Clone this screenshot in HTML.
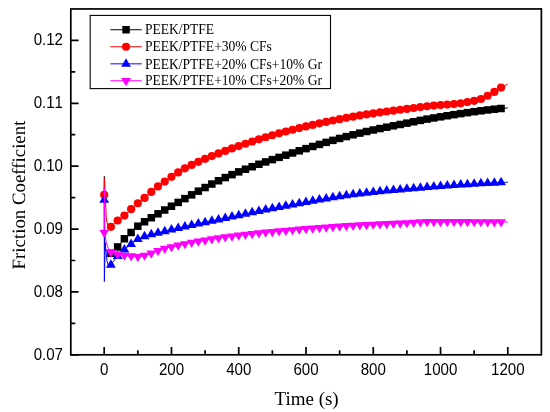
<!DOCTYPE html>
<html lang="en"><head><meta charset="utf-8"><title>Friction Coefficient vs Time</title>
<style>html,body{margin:0;padding:0;background:#fff;}body{width:550px;height:412px;overflow:hidden;}</style>
</head><body>
<svg width="550" height="412" viewBox="0 0 550 412" style="display:block">
<rect width="550" height="412" fill="#ffffff"/>
<g id="s-black">
<polyline points="104.20,194.11 104.37,176.49 104.70,250.09 110.93,253.23 112.61,251.83 114.29,250.31 115.97,248.67 117.65,246.94 119.33,245.00 121.02,242.85 122.70,240.71 124.38,238.76 126.06,237.08 127.74,235.52 129.42,234.01 131.11,232.47 132.79,230.85 134.47,229.19 136.15,227.60 137.83,226.18 139.51,224.96 141.20,223.86 142.88,222.82 144.56,221.78 146.24,220.74 147.92,219.72 149.60,218.70 151.29,217.71 152.97,216.72 154.65,215.74 156.33,214.77 158.01,213.81 159.69,212.86 161.38,211.91 163.06,210.96 164.74,210.02 166.42,209.07 168.10,208.13 169.78,207.18 171.47,206.22 173.15,205.27 174.83,204.32 176.51,203.36 178.19,202.41 179.87,201.46 181.56,200.50 183.24,199.55 184.92,198.60 186.60,197.66 188.28,196.71 189.96,195.77 191.65,194.84 193.33,193.91 195.01,192.98 196.69,192.05 198.37,191.14 200.05,190.23 201.74,189.32 203.42,188.42 205.10,187.53 206.78,186.65 208.46,185.78 210.14,184.91 211.83,184.05 213.51,183.21 215.19,182.37 216.87,181.54 218.55,180.73 220.23,179.92 221.92,179.13 223.60,178.35 225.28,177.58 226.96,176.83 228.64,176.09 230.32,175.36 232.01,174.65 233.69,173.94 235.37,173.24 237.05,172.55 238.73,171.87 240.41,171.20 242.10,170.54 243.78,169.88 245.46,169.23 247.14,168.59 248.82,167.95 250.50,167.32 252.19,166.70 253.87,166.08 255.55,165.47 257.23,164.87 258.91,164.27 260.59,163.67 262.28,163.08 263.96,162.50 265.64,161.91 267.32,161.34 269.00,160.76 270.68,160.19 272.37,159.62 274.05,159.06 275.73,158.50 277.41,157.94 279.09,157.38 280.77,156.82 282.45,156.27 284.14,155.72 285.82,155.17 287.50,154.62 289.18,154.07 290.86,153.52 292.54,152.97 294.23,152.42 295.91,151.88 297.59,151.33 299.27,150.79 300.95,150.25 302.63,149.71 304.32,149.17 306.00,148.63 307.68,148.09 309.36,147.56 311.04,147.03 312.72,146.50 314.41,145.97 316.09,145.45 317.77,144.93 319.45,144.41 321.13,143.89 322.81,143.38 324.50,142.87 326.18,142.36 327.86,141.86 329.54,141.36 331.22,140.86 332.90,140.37 334.59,139.88 336.27,139.40 337.95,138.92 339.63,138.44 341.31,137.97 342.99,137.50 344.68,137.04 346.36,136.58 348.04,136.13 349.72,135.68 351.40,135.24 353.08,134.80 354.77,134.37 356.45,133.95 358.13,133.53 359.81,133.11 361.49,132.70 363.17,132.30 364.86,131.90 366.54,131.51 368.22,131.13 369.90,130.75 371.58,130.37 373.26,130.00 374.95,129.64 376.63,129.28 378.31,128.92 379.99,128.56 381.67,128.21 383.35,127.86 385.04,127.52 386.72,127.18 388.40,126.83 390.08,126.49 391.76,126.16 393.44,125.82 395.13,125.48 396.81,125.15 398.49,124.81 400.17,124.48 401.85,124.14 403.53,123.81 405.22,123.47 406.90,123.14 408.58,122.80 410.26,122.46 411.94,122.11 413.62,121.77 415.31,121.42 416.99,121.07 418.67,120.73 420.35,120.39 422.03,120.06 423.71,119.73 425.40,119.41 427.08,119.10 428.76,118.81 430.44,118.52 432.12,118.24 433.80,117.95 435.49,117.67 437.17,117.39 438.85,117.11 440.53,116.83 442.21,116.55 443.89,116.27 445.57,116.00 447.26,115.73 448.94,115.46 450.62,115.19 452.30,114.92 453.98,114.66 455.66,114.40 457.35,114.14 459.03,113.88 460.71,113.63 462.39,113.38 464.07,113.13 465.75,112.88 467.44,112.64 469.12,112.40 470.80,112.16 472.48,111.92 474.16,111.69 475.84,111.47 477.53,111.24 479.21,111.02 480.89,110.80 482.57,110.59 484.25,110.38 485.93,110.17 487.62,109.97 489.30,109.77 490.98,109.58 492.66,109.39 494.34,109.20 496.02,109.02 497.71,108.84 499.39,108.67 501.07,108.50 502.75,108.34 504.43,108.20 506.11,108.06 507.80,107.93" fill="none" stroke="#000000" stroke-width="1"/>
<rect x="107.18" y="249.48" width="7.5" height="7.5" fill="#000000"/><rect x="113.90" y="243.19" width="7.5" height="7.5" fill="#000000"/><rect x="120.63" y="235.01" width="7.5" height="7.5" fill="#000000"/><rect x="127.36" y="228.72" width="7.5" height="7.5" fill="#000000"/><rect x="134.08" y="222.43" width="7.5" height="7.5" fill="#000000"/><rect x="140.81" y="218.03" width="7.5" height="7.5" fill="#000000"/><rect x="147.54" y="213.96" width="7.5" height="7.5" fill="#000000"/><rect x="154.26" y="210.06" width="7.5" height="7.5" fill="#000000"/><rect x="160.99" y="206.27" width="7.5" height="7.5" fill="#000000"/><rect x="167.72" y="202.47" width="7.5" height="7.5" fill="#000000"/><rect x="174.44" y="198.66" width="7.5" height="7.5" fill="#000000"/><rect x="181.17" y="194.85" width="7.5" height="7.5" fill="#000000"/><rect x="187.90" y="191.09" width="7.5" height="7.5" fill="#000000"/><rect x="194.62" y="187.39" width="7.5" height="7.5" fill="#000000"/><rect x="201.35" y="183.78" width="7.5" height="7.5" fill="#000000"/><rect x="208.08" y="180.30" width="7.5" height="7.5" fill="#000000"/><rect x="214.80" y="176.98" width="7.5" height="7.5" fill="#000000"/><rect x="221.53" y="173.83" width="7.5" height="7.5" fill="#000000"/><rect x="228.26" y="170.90" width="7.5" height="7.5" fill="#000000"/><rect x="234.98" y="168.12" width="7.5" height="7.5" fill="#000000"/><rect x="241.71" y="165.48" width="7.5" height="7.5" fill="#000000"/><rect x="248.44" y="162.95" width="7.5" height="7.5" fill="#000000"/><rect x="255.16" y="160.52" width="7.5" height="7.5" fill="#000000"/><rect x="261.89" y="158.16" width="7.5" height="7.5" fill="#000000"/><rect x="268.62" y="155.87" width="7.5" height="7.5" fill="#000000"/><rect x="275.34" y="153.63" width="7.5" height="7.5" fill="#000000"/><rect x="282.07" y="151.42" width="7.5" height="7.5" fill="#000000"/><rect x="288.79" y="149.22" width="7.5" height="7.5" fill="#000000"/><rect x="295.52" y="147.04" width="7.5" height="7.5" fill="#000000"/><rect x="302.25" y="144.88" width="7.5" height="7.5" fill="#000000"/><rect x="308.97" y="142.75" width="7.5" height="7.5" fill="#000000"/><rect x="315.70" y="140.66" width="7.5" height="7.5" fill="#000000"/><rect x="322.43" y="138.61" width="7.5" height="7.5" fill="#000000"/><rect x="329.15" y="136.62" width="7.5" height="7.5" fill="#000000"/><rect x="335.88" y="134.69" width="7.5" height="7.5" fill="#000000"/><rect x="342.61" y="132.83" width="7.5" height="7.5" fill="#000000"/><rect x="349.33" y="131.05" width="7.5" height="7.5" fill="#000000"/><rect x="356.06" y="129.36" width="7.5" height="7.5" fill="#000000"/><rect x="362.79" y="127.76" width="7.5" height="7.5" fill="#000000"/><rect x="369.51" y="126.25" width="7.5" height="7.5" fill="#000000"/><rect x="376.24" y="124.81" width="7.5" height="7.5" fill="#000000"/><rect x="382.97" y="123.43" width="7.5" height="7.5" fill="#000000"/><rect x="389.69" y="122.07" width="7.5" height="7.5" fill="#000000"/><rect x="396.42" y="120.73" width="7.5" height="7.5" fill="#000000"/><rect x="403.15" y="119.39" width="7.5" height="7.5" fill="#000000"/><rect x="409.87" y="118.02" width="7.5" height="7.5" fill="#000000"/><rect x="416.60" y="116.64" width="7.5" height="7.5" fill="#000000"/><rect x="423.33" y="115.35" width="7.5" height="7.5" fill="#000000"/><rect x="430.05" y="114.20" width="7.5" height="7.5" fill="#000000"/><rect x="436.78" y="113.08" width="7.5" height="7.5" fill="#000000"/><rect x="443.51" y="111.98" width="7.5" height="7.5" fill="#000000"/><rect x="450.23" y="110.91" width="7.5" height="7.5" fill="#000000"/><rect x="456.96" y="109.88" width="7.5" height="7.5" fill="#000000"/><rect x="463.69" y="108.89" width="7.5" height="7.5" fill="#000000"/><rect x="470.41" y="107.94" width="7.5" height="7.5" fill="#000000"/><rect x="477.14" y="107.05" width="7.5" height="7.5" fill="#000000"/><rect x="483.87" y="106.22" width="7.5" height="7.5" fill="#000000"/><rect x="490.59" y="105.45" width="7.5" height="7.5" fill="#000000"/><rect x="497.32" y="104.75" width="7.5" height="7.5" fill="#000000"/>
</g>
<g id="s-red">
<polyline points="104.20,194.11 104.54,178.38 105.21,194.11 106.22,217.38 107.56,224.93 110.93,226.81 112.61,225.11 114.29,223.48 115.97,221.95 117.65,220.52 119.33,219.24 121.02,218.08 122.70,216.91 124.38,215.62 126.06,214.12 127.74,212.49 129.42,210.81 131.11,209.20 132.79,207.66 134.47,206.15 136.15,204.66 137.83,203.23 139.51,201.86 141.20,200.55 142.88,199.24 144.56,197.88 146.24,196.42 147.92,194.90 149.60,193.38 151.29,191.90 152.97,190.49 154.65,189.10 156.33,187.75 158.01,186.43 159.69,185.16 161.38,183.93 163.06,182.73 164.74,181.53 166.42,180.32 168.10,179.13 169.78,177.96 171.47,176.81 173.15,175.68 174.83,174.57 176.51,173.48 178.19,172.40 179.87,171.33 181.56,170.27 183.24,169.25 184.92,168.32 186.60,167.45 188.28,166.59 189.96,165.75 191.65,164.93 193.33,164.12 195.01,163.33 196.69,162.55 198.37,161.78 200.05,161.03 201.74,160.29 203.42,159.56 205.10,158.84 206.78,158.13 208.46,157.44 210.14,156.75 211.83,156.07 213.51,155.40 215.19,154.74 216.87,154.09 218.55,153.44 220.23,152.80 221.92,152.16 223.60,151.54 225.28,150.91 226.96,150.29 228.64,149.68 230.32,149.07 232.01,148.46 233.69,147.86 235.37,147.26 237.05,146.66 238.73,146.07 240.41,145.49 242.10,144.90 243.78,144.33 245.46,143.75 247.14,143.18 248.82,142.62 250.50,142.06 252.19,141.51 253.87,140.96 255.55,140.41 257.23,139.87 258.91,139.33 260.59,138.80 262.28,138.28 263.96,137.76 265.64,137.24 267.32,136.74 269.00,136.23 270.68,135.73 272.37,135.24 274.05,134.75 275.73,134.27 277.41,133.79 279.09,133.32 280.77,132.86 282.45,132.40 284.14,131.95 285.82,131.50 287.50,131.06 289.18,130.62 290.86,130.19 292.54,129.77 294.23,129.34 295.91,128.92 297.59,128.51 299.27,128.09 300.95,127.68 302.63,127.27 304.32,126.87 306.00,126.46 307.68,126.07 309.36,125.67 311.04,125.28 312.72,124.89 314.41,124.50 316.09,124.12 317.77,123.74 319.45,123.37 321.13,123.00 322.81,122.63 324.50,122.26 326.18,121.90 327.86,121.54 329.54,121.19 331.22,120.84 332.90,120.49 334.59,120.15 336.27,119.81 337.95,119.47 339.63,119.14 341.31,118.81 342.99,118.49 344.68,118.17 346.36,117.85 348.04,117.54 349.72,117.23 351.40,116.93 353.08,116.63 354.77,116.33 356.45,116.04 358.13,115.76 359.81,115.47 361.49,115.19 363.17,114.92 364.86,114.65 366.54,114.39 368.22,114.13 369.90,113.88 371.58,113.63 373.26,113.38 374.95,113.14 376.63,112.90 378.31,112.66 379.99,112.43 381.67,112.20 383.35,111.97 385.04,111.75 386.72,111.52 388.40,111.30 390.08,111.08 391.76,110.86 393.44,110.64 395.13,110.42 396.81,110.20 398.49,109.99 400.17,109.77 401.85,109.55 403.53,109.33 405.22,109.12 406.90,108.90 408.58,108.68 410.26,108.45 411.94,108.23 413.62,108.00 415.31,107.77 416.99,107.54 418.67,107.32 420.35,107.09 422.03,106.87 423.71,106.66 425.40,106.46 427.08,106.26 428.76,106.08 430.44,105.91 432.12,105.75 433.80,105.60 435.49,105.47 437.17,105.34 438.85,105.21 440.53,105.09 442.21,104.97 443.89,104.86 445.57,104.74 447.26,104.62 448.94,104.49 450.62,104.36 452.30,104.22 453.98,104.07 455.66,103.91 457.35,103.74 459.03,103.55 460.71,103.34 462.39,103.08 464.07,102.76 465.75,102.42 467.44,102.08 469.12,101.78 470.80,101.48 472.48,101.17 474.16,100.82 475.84,100.44 477.53,100.02 479.21,99.54 480.89,99.00 482.57,98.33 484.25,97.51 485.93,96.63 487.62,95.73 489.30,94.82 490.98,93.88 492.66,92.90 494.34,91.89 496.02,90.83 497.71,89.72 499.39,88.63 501.07,87.62 502.75,86.69 504.43,85.81 506.11,84.99 507.80,84.22" fill="none" stroke="#ff0000" stroke-width="1"/>
<circle cx="104.20" cy="194.73" r="4.1" fill="#ff0000"/><circle cx="110.93" cy="226.81" r="4.1" fill="#ff0000"/><circle cx="117.65" cy="220.52" r="4.1" fill="#ff0000"/><circle cx="124.38" cy="215.62" r="4.1" fill="#ff0000"/><circle cx="131.11" cy="209.20" r="4.1" fill="#ff0000"/><circle cx="137.83" cy="203.23" r="4.1" fill="#ff0000"/><circle cx="144.56" cy="197.88" r="4.1" fill="#ff0000"/><circle cx="151.29" cy="191.90" r="4.1" fill="#ff0000"/><circle cx="158.01" cy="186.43" r="4.1" fill="#ff0000"/><circle cx="164.74" cy="181.53" r="4.1" fill="#ff0000"/><circle cx="171.47" cy="176.81" r="4.1" fill="#ff0000"/><circle cx="178.19" cy="172.40" r="4.1" fill="#ff0000"/><circle cx="184.92" cy="168.32" r="4.1" fill="#ff0000"/><circle cx="191.65" cy="164.93" r="4.1" fill="#ff0000"/><circle cx="198.37" cy="161.78" r="4.1" fill="#ff0000"/><circle cx="205.10" cy="158.84" r="4.1" fill="#ff0000"/><circle cx="211.83" cy="156.07" r="4.1" fill="#ff0000"/><circle cx="218.55" cy="153.44" r="4.1" fill="#ff0000"/><circle cx="225.28" cy="150.91" r="4.1" fill="#ff0000"/><circle cx="232.01" cy="148.46" r="4.1" fill="#ff0000"/><circle cx="238.73" cy="146.07" r="4.1" fill="#ff0000"/><circle cx="245.46" cy="143.75" r="4.1" fill="#ff0000"/><circle cx="252.19" cy="141.51" r="4.1" fill="#ff0000"/><circle cx="258.91" cy="139.33" r="4.1" fill="#ff0000"/><circle cx="265.64" cy="137.24" r="4.1" fill="#ff0000"/><circle cx="272.37" cy="135.24" r="4.1" fill="#ff0000"/><circle cx="279.09" cy="133.32" r="4.1" fill="#ff0000"/><circle cx="285.82" cy="131.50" r="4.1" fill="#ff0000"/><circle cx="292.54" cy="129.77" r="4.1" fill="#ff0000"/><circle cx="299.27" cy="128.09" r="4.1" fill="#ff0000"/><circle cx="306.00" cy="126.46" r="4.1" fill="#ff0000"/><circle cx="312.72" cy="124.89" r="4.1" fill="#ff0000"/><circle cx="319.45" cy="123.37" r="4.1" fill="#ff0000"/><circle cx="326.18" cy="121.90" r="4.1" fill="#ff0000"/><circle cx="332.90" cy="120.49" r="4.1" fill="#ff0000"/><circle cx="339.63" cy="119.14" r="4.1" fill="#ff0000"/><circle cx="346.36" cy="117.85" r="4.1" fill="#ff0000"/><circle cx="353.08" cy="116.63" r="4.1" fill="#ff0000"/><circle cx="359.81" cy="115.47" r="4.1" fill="#ff0000"/><circle cx="366.54" cy="114.39" r="4.1" fill="#ff0000"/><circle cx="373.26" cy="113.38" r="4.1" fill="#ff0000"/><circle cx="379.99" cy="112.43" r="4.1" fill="#ff0000"/><circle cx="386.72" cy="111.52" r="4.1" fill="#ff0000"/><circle cx="393.44" cy="110.64" r="4.1" fill="#ff0000"/><circle cx="400.17" cy="109.77" r="4.1" fill="#ff0000"/><circle cx="406.90" cy="108.90" r="4.1" fill="#ff0000"/><circle cx="413.62" cy="108.00" r="4.1" fill="#ff0000"/><circle cx="420.35" cy="107.09" r="4.1" fill="#ff0000"/><circle cx="427.08" cy="106.26" r="4.1" fill="#ff0000"/><circle cx="433.80" cy="105.60" r="4.1" fill="#ff0000"/><circle cx="440.53" cy="105.09" r="4.1" fill="#ff0000"/><circle cx="447.26" cy="104.62" r="4.1" fill="#ff0000"/><circle cx="453.98" cy="104.07" r="4.1" fill="#ff0000"/><circle cx="460.71" cy="103.34" r="4.1" fill="#ff0000"/><circle cx="467.44" cy="102.08" r="4.1" fill="#ff0000"/><circle cx="474.16" cy="100.82" r="4.1" fill="#ff0000"/><circle cx="480.89" cy="99.00" r="4.1" fill="#ff0000"/><circle cx="487.62" cy="95.73" r="4.1" fill="#ff0000"/><circle cx="494.34" cy="91.89" r="4.1" fill="#ff0000"/><circle cx="501.07" cy="87.62" r="4.1" fill="#ff0000"/>
</g>
<g id="s-blue">
<polyline points="104.20,199.77 104.37,281.54 105.21,242.54 106.89,260.15 108.57,266.44 110.93,264.80 112.61,262.36 114.29,260.06 115.97,257.93 117.65,256.00 119.33,254.26 121.02,252.68 122.70,251.19 124.38,249.71 126.06,248.24 127.74,246.80 129.42,245.40 131.11,244.05 132.79,242.66 134.47,241.25 136.15,239.98 137.83,239.02 139.51,238.28 141.20,237.60 142.88,236.97 144.56,236.38 146.24,235.85 147.92,235.34 149.60,234.87 151.29,234.43 152.97,234.01 154.65,233.60 156.33,233.21 158.01,232.82 159.69,232.44 161.38,232.05 163.06,231.65 164.74,231.24 166.42,230.82 168.10,230.40 169.78,229.99 171.47,229.58 173.15,229.18 174.83,228.78 176.51,228.39 178.19,228.00 179.87,227.62 181.56,227.24 183.24,226.87 184.92,226.49 186.60,226.12 188.28,225.76 189.96,225.40 191.65,225.03 193.33,224.68 195.01,224.32 196.69,223.97 198.37,223.62 200.05,223.27 201.74,222.92 203.42,222.57 205.10,222.23 206.78,221.89 208.46,221.54 210.14,221.20 211.83,220.86 213.51,220.52 215.19,220.17 216.87,219.83 218.55,219.49 220.23,219.15 221.92,218.80 223.60,218.46 225.28,218.11 226.96,217.76 228.64,217.41 230.32,217.06 232.01,216.71 233.69,216.36 235.37,216.01 237.05,215.65 238.73,215.30 240.41,214.94 242.10,214.59 243.78,214.23 245.46,213.88 247.14,213.53 248.82,213.17 250.50,212.82 252.19,212.47 253.87,212.11 255.55,211.76 257.23,211.41 258.91,211.07 260.59,210.72 262.28,210.37 263.96,210.03 265.64,209.68 267.32,209.34 269.00,209.00 270.68,208.66 272.37,208.33 274.05,207.99 275.73,207.66 277.41,207.33 279.09,207.01 280.77,206.68 282.45,206.36 284.14,206.04 285.82,205.73 287.50,205.42 289.18,205.11 290.86,204.80 292.54,204.50 294.23,204.19 295.91,203.88 297.59,203.58 299.27,203.27 300.95,202.96 302.63,202.66 304.32,202.35 306.00,202.05 307.68,201.74 309.36,201.44 311.04,201.14 312.72,200.84 314.41,200.54 316.09,200.24 317.77,199.94 319.45,199.65 321.13,199.36 322.81,199.07 324.50,198.78 326.18,198.49 327.86,198.21 329.54,197.93 331.22,197.65 332.90,197.38 334.59,197.11 336.27,196.84 337.95,196.57 339.63,196.31 341.31,196.06 342.99,195.80 344.68,195.55 346.36,195.31 348.04,195.07 349.72,194.83 351.40,194.60 353.08,194.37 354.77,194.15 356.45,193.93 358.13,193.72 359.81,193.52 361.49,193.32 363.17,193.12 364.86,192.93 366.54,192.74 368.22,192.55 369.90,192.37 371.58,192.19 373.26,192.01 374.95,191.84 376.63,191.67 378.31,191.50 379.99,191.34 381.67,191.17 383.35,191.01 385.04,190.85 386.72,190.70 388.40,190.54 390.08,190.39 391.76,190.23 393.44,190.08 395.13,189.93 396.81,189.78 398.49,189.64 400.17,189.49 401.85,189.34 403.53,189.19 405.22,189.05 406.90,188.90 408.58,188.75 410.26,188.60 411.94,188.46 413.62,188.31 415.31,188.17 416.99,188.02 418.67,187.88 420.35,187.74 422.03,187.61 423.71,187.47 425.40,187.34 427.08,187.21 428.76,187.09 430.44,186.96 432.12,186.84 433.80,186.71 435.49,186.59 437.17,186.46 438.85,186.33 440.53,186.21 442.21,186.08 443.89,185.96 445.57,185.83 447.26,185.70 448.94,185.58 450.62,185.45 452.30,185.33 453.98,185.21 455.66,185.08 457.35,184.96 459.03,184.84 460.71,184.72 462.39,184.61 464.07,184.49 465.75,184.37 467.44,184.26 469.12,184.15 470.80,184.04 472.48,183.93 474.16,183.82 475.84,183.72 477.53,183.61 479.21,183.51 480.89,183.42 482.57,183.32 484.25,183.23 485.93,183.14 487.62,183.05 489.30,182.97 490.98,182.89 492.66,182.81 494.34,182.73 496.02,182.66 497.71,182.59 499.39,182.53 501.07,182.47 502.75,182.41 504.43,182.37 506.11,182.32 507.80,182.28" fill="none" stroke="#0000ff" stroke-width="1"/>
<polygon points="99.30,202.67 109.10,202.67 104.20,194.17" fill="#0000ff"/><polygon points="106.03,267.70 115.83,267.70 110.93,259.20" fill="#0000ff"/><polygon points="112.75,258.90 122.55,258.90 117.65,250.40" fill="#0000ff"/><polygon points="119.48,252.61 129.28,252.61 124.38,244.11" fill="#0000ff"/><polygon points="126.21,246.95 136.01,246.95 131.11,238.45" fill="#0000ff"/><polygon points="132.93,241.92 142.73,241.92 137.83,233.42" fill="#0000ff"/><polygon points="139.66,239.28 149.46,239.28 144.56,230.78" fill="#0000ff"/><polygon points="146.39,237.33 156.19,237.33 151.29,228.83" fill="#0000ff"/><polygon points="153.11,235.72 162.91,235.72 158.01,227.22" fill="#0000ff"/><polygon points="159.84,234.14 169.64,234.14 164.74,225.64" fill="#0000ff"/><polygon points="166.57,232.48 176.37,232.48 171.47,223.98" fill="#0000ff"/><polygon points="173.29,230.90 183.09,230.90 178.19,222.40" fill="#0000ff"/><polygon points="180.02,229.39 189.82,229.39 184.92,220.89" fill="#0000ff"/><polygon points="186.75,227.93 196.55,227.93 191.65,219.43" fill="#0000ff"/><polygon points="193.47,226.52 203.27,226.52 198.37,218.02" fill="#0000ff"/><polygon points="200.20,225.13 210.00,225.13 205.10,216.63" fill="#0000ff"/><polygon points="206.93,223.76 216.73,223.76 211.83,215.26" fill="#0000ff"/><polygon points="213.65,222.39 223.45,222.39 218.55,213.89" fill="#0000ff"/><polygon points="220.38,221.01 230.18,221.01 225.28,212.51" fill="#0000ff"/><polygon points="227.11,219.61 236.91,219.61 232.01,211.11" fill="#0000ff"/><polygon points="233.83,218.20 243.63,218.20 238.73,209.70" fill="#0000ff"/><polygon points="240.56,216.78 250.36,216.78 245.46,208.28" fill="#0000ff"/><polygon points="247.29,215.37 257.09,215.37 252.19,206.87" fill="#0000ff"/><polygon points="254.01,213.97 263.81,213.97 258.91,205.47" fill="#0000ff"/><polygon points="260.74,212.58 270.54,212.58 265.64,204.08" fill="#0000ff"/><polygon points="267.47,211.23 277.26,211.23 272.37,202.73" fill="#0000ff"/><polygon points="274.19,209.91 283.99,209.91 279.09,201.41" fill="#0000ff"/><polygon points="280.92,208.63 290.72,208.63 285.82,200.13" fill="#0000ff"/><polygon points="287.64,207.40 297.44,207.40 292.54,198.90" fill="#0000ff"/><polygon points="294.37,206.17 304.17,206.17 299.27,197.67" fill="#0000ff"/><polygon points="301.10,204.95 310.90,204.95 306.00,196.45" fill="#0000ff"/><polygon points="307.82,203.74 317.62,203.74 312.72,195.24" fill="#0000ff"/><polygon points="314.55,202.55 324.35,202.55 319.45,194.05" fill="#0000ff"/><polygon points="321.28,201.39 331.08,201.39 326.18,192.89" fill="#0000ff"/><polygon points="328.00,200.28 337.80,200.28 332.90,191.78" fill="#0000ff"/><polygon points="334.73,199.21 344.53,199.21 339.63,190.71" fill="#0000ff"/><polygon points="341.46,198.21 351.26,198.21 346.36,189.71" fill="#0000ff"/><polygon points="348.18,197.27 357.98,197.27 353.08,188.77" fill="#0000ff"/><polygon points="354.91,196.42 364.71,196.42 359.81,187.92" fill="#0000ff"/><polygon points="361.64,195.64 371.44,195.64 366.54,187.14" fill="#0000ff"/><polygon points="368.36,194.91 378.16,194.91 373.26,186.41" fill="#0000ff"/><polygon points="375.09,194.24 384.89,194.24 379.99,185.74" fill="#0000ff"/><polygon points="381.82,193.60 391.62,193.60 386.72,185.10" fill="#0000ff"/><polygon points="388.54,192.98 398.34,192.98 393.44,184.48" fill="#0000ff"/><polygon points="395.27,192.39 405.07,192.39 400.17,183.89" fill="#0000ff"/><polygon points="402.00,191.80 411.80,191.80 406.90,183.30" fill="#0000ff"/><polygon points="408.72,191.21 418.52,191.21 413.62,182.71" fill="#0000ff"/><polygon points="415.45,190.64 425.25,190.64 420.35,182.14" fill="#0000ff"/><polygon points="422.18,190.11 431.98,190.11 427.08,181.61" fill="#0000ff"/><polygon points="428.90,189.61 438.70,189.61 433.80,181.11" fill="#0000ff"/><polygon points="435.63,189.11 445.43,189.11 440.53,180.61" fill="#0000ff"/><polygon points="442.36,188.60 452.16,188.60 447.26,180.10" fill="#0000ff"/><polygon points="449.08,188.11 458.88,188.11 453.98,179.61" fill="#0000ff"/><polygon points="455.81,187.62 465.61,187.62 460.71,179.12" fill="#0000ff"/><polygon points="462.54,187.16 472.34,187.16 467.44,178.66" fill="#0000ff"/><polygon points="469.26,186.72 479.06,186.72 474.16,178.22" fill="#0000ff"/><polygon points="475.99,186.32 485.79,186.32 480.89,177.82" fill="#0000ff"/><polygon points="482.72,185.95 492.52,185.95 487.62,177.45" fill="#0000ff"/><polygon points="489.44,185.63 499.24,185.63 494.34,177.13" fill="#0000ff"/><polygon points="496.17,185.37 505.97,185.37 501.07,176.87" fill="#0000ff"/>
</g>
<g id="s-magenta">
<polyline points="104.20,233.10 104.37,187.19 104.87,233.10 106.22,242.54 108.24,248.20 110.93,252.22 112.61,252.76 114.29,253.25 115.97,253.71 117.65,254.11 119.33,254.48 121.02,254.82 122.70,255.13 124.38,255.37 126.06,255.56 127.74,255.71 129.42,255.85 131.11,256.00 132.79,256.19 134.47,256.39 136.15,256.56 137.83,256.63 139.51,256.50 141.20,256.19 142.88,255.78 144.56,255.37 146.24,254.94 147.92,254.44 149.60,253.89 151.29,253.28 152.97,252.65 154.65,252.00 156.33,251.35 158.01,250.70 159.69,250.08 161.38,249.49 163.06,248.95 164.74,248.47 166.42,248.05 168.10,247.64 169.78,247.23 171.47,246.83 173.15,246.44 174.83,246.05 176.51,245.67 178.19,245.30 179.87,244.93 181.56,244.57 183.24,244.22 184.92,243.87 186.60,243.53 188.28,243.19 189.96,242.86 191.65,242.54 193.33,242.22 195.01,241.91 196.69,241.60 198.37,241.30 200.05,241.00 201.74,240.70 203.42,240.42 205.10,240.13 206.78,239.86 208.46,239.58 210.14,239.31 211.83,239.05 213.51,238.78 215.19,238.53 216.87,238.27 218.55,238.02 220.23,237.78 221.92,237.54 223.60,237.30 225.28,237.06 226.96,236.83 228.64,236.60 230.32,236.37 232.01,236.15 233.69,235.93 235.37,235.71 237.05,235.50 238.73,235.29 240.41,235.09 242.10,234.88 243.78,234.68 245.46,234.48 247.14,234.29 248.82,234.10 250.50,233.91 252.19,233.72 253.87,233.54 255.55,233.36 257.23,233.18 258.91,233.00 260.59,232.82 262.28,232.65 263.96,232.48 265.64,232.31 267.32,232.15 269.00,231.98 270.68,231.82 272.37,231.66 274.05,231.50 275.73,231.35 277.41,231.19 279.09,231.04 280.77,230.88 282.45,230.73 284.14,230.58 285.82,230.44 287.50,230.29 289.18,230.14 290.86,230.00 292.54,229.85 294.23,229.71 295.91,229.57 297.59,229.42 299.27,229.28 300.95,229.14 302.63,229.01 304.32,228.87 306.00,228.73 307.68,228.59 309.36,228.46 311.04,228.33 312.72,228.19 314.41,228.06 316.09,227.93 317.77,227.80 319.45,227.68 321.13,227.55 322.81,227.42 324.50,227.30 326.18,227.18 327.86,227.05 329.54,226.93 331.22,226.81 332.90,226.70 334.59,226.58 336.27,226.46 337.95,226.35 339.63,226.24 341.31,226.13 342.99,226.02 344.68,225.91 346.36,225.80 348.04,225.70 349.72,225.60 351.40,225.49 353.08,225.39 354.77,225.29 356.45,225.20 358.13,225.10 359.81,225.01 361.49,224.92 363.17,224.83 364.86,224.74 366.54,224.65 368.22,224.57 369.90,224.49 371.58,224.41 373.26,224.33 374.95,224.26 376.63,224.18 378.31,224.11 379.99,224.03 381.67,223.96 383.35,223.89 385.04,223.82 386.72,223.75 388.40,223.68 390.08,223.61 391.76,223.54 393.44,223.47 395.13,223.40 396.81,223.32 398.49,223.25 400.17,223.18 401.85,223.10 403.53,223.03 405.22,222.95 406.90,222.87 408.58,222.79 410.26,222.71 411.94,222.61 413.62,222.51 415.31,222.39 416.99,222.28 418.67,222.16 420.35,222.05 422.03,221.95 423.71,221.86 425.40,221.79 427.08,221.74 428.76,221.72 430.44,221.72 432.12,221.72 433.80,221.72 435.49,221.72 437.17,221.72 438.85,221.72 440.53,221.73 442.21,221.73 443.89,221.73 445.57,221.73 447.26,221.74 448.94,221.74 450.62,221.75 452.30,221.75 453.98,221.75 455.66,221.76 457.35,221.76 459.03,221.77 460.71,221.78 462.39,221.78 464.07,221.79 465.75,221.79 467.44,221.80 469.12,221.81 470.80,221.81 472.48,221.82 474.16,221.83 475.84,221.84 477.53,221.84 479.21,221.85 480.89,221.86 482.57,221.87 484.25,221.88 485.93,221.89 487.62,221.89 489.30,221.90 490.98,221.91 492.66,221.92 494.34,221.93 496.02,221.94 497.71,221.95 499.39,221.96 501.07,221.97 502.75,221.98 504.43,222.00 506.11,222.02 507.80,222.03" fill="none" stroke="#ff00ff" stroke-width="1"/>
<polygon points="99.30,229.77 109.10,229.77 104.20,237.97" fill="#ff00ff"/><polygon points="106.03,249.52 115.83,249.52 110.93,257.72" fill="#ff00ff"/><polygon points="112.75,251.41 122.55,251.41 117.65,259.61" fill="#ff00ff"/><polygon points="119.48,252.67 129.28,252.67 124.38,260.87" fill="#ff00ff"/><polygon points="126.21,253.30 136.01,253.30 131.11,261.50" fill="#ff00ff"/><polygon points="132.93,253.93 142.73,253.93 137.83,262.13" fill="#ff00ff"/><polygon points="139.66,252.67 149.46,252.67 144.56,260.87" fill="#ff00ff"/><polygon points="146.39,250.58 156.19,250.58 151.29,258.78" fill="#ff00ff"/><polygon points="153.11,248.00 162.91,248.00 158.01,256.20" fill="#ff00ff"/><polygon points="159.84,245.77 169.64,245.77 164.74,253.97" fill="#ff00ff"/><polygon points="166.57,244.13 176.37,244.13 171.47,252.33" fill="#ff00ff"/><polygon points="173.29,242.60 183.09,242.60 178.19,250.80" fill="#ff00ff"/><polygon points="180.02,241.17 189.82,241.17 184.92,249.37" fill="#ff00ff"/><polygon points="186.75,239.84 196.55,239.84 191.65,248.04" fill="#ff00ff"/><polygon points="193.47,238.60 203.27,238.60 198.37,246.80" fill="#ff00ff"/><polygon points="200.20,237.43 210.00,237.43 205.10,245.63" fill="#ff00ff"/><polygon points="206.93,236.35 216.73,236.35 211.83,244.55" fill="#ff00ff"/><polygon points="213.65,235.32 223.45,235.32 218.55,243.52" fill="#ff00ff"/><polygon points="220.38,234.36 230.18,234.36 225.28,242.56" fill="#ff00ff"/><polygon points="227.11,233.45 236.91,233.45 232.01,241.65" fill="#ff00ff"/><polygon points="233.83,232.59 243.63,232.59 238.73,240.79" fill="#ff00ff"/><polygon points="240.56,231.78 250.36,231.78 245.46,239.98" fill="#ff00ff"/><polygon points="247.29,231.02 257.09,231.02 252.19,239.22" fill="#ff00ff"/><polygon points="254.01,230.30 263.81,230.30 258.91,238.50" fill="#ff00ff"/><polygon points="260.74,229.61 270.54,229.61 265.64,237.81" fill="#ff00ff"/><polygon points="267.47,228.96 277.26,228.96 272.37,237.16" fill="#ff00ff"/><polygon points="274.19,228.34 283.99,228.34 279.09,236.54" fill="#ff00ff"/><polygon points="280.92,227.74 290.72,227.74 285.82,235.94" fill="#ff00ff"/><polygon points="287.64,227.15 297.44,227.15 292.54,235.35" fill="#ff00ff"/><polygon points="294.37,226.58 304.17,226.58 299.27,234.78" fill="#ff00ff"/><polygon points="301.10,226.03 310.90,226.03 306.00,234.23" fill="#ff00ff"/><polygon points="307.82,225.49 317.62,225.49 312.72,233.69" fill="#ff00ff"/><polygon points="314.55,224.98 324.35,224.98 319.45,233.18" fill="#ff00ff"/><polygon points="321.28,224.48 331.08,224.48 326.18,232.68" fill="#ff00ff"/><polygon points="328.00,224.00 337.80,224.00 332.90,232.20" fill="#ff00ff"/><polygon points="334.73,223.54 344.53,223.54 339.63,231.74" fill="#ff00ff"/><polygon points="341.46,223.10 351.26,223.10 346.36,231.30" fill="#ff00ff"/><polygon points="348.18,222.69 357.98,222.69 353.08,230.89" fill="#ff00ff"/><polygon points="354.91,222.31 364.71,222.31 359.81,230.51" fill="#ff00ff"/><polygon points="361.64,221.95 371.44,221.95 366.54,230.15" fill="#ff00ff"/><polygon points="368.36,221.63 378.16,221.63 373.26,229.83" fill="#ff00ff"/><polygon points="375.09,221.33 384.89,221.33 379.99,229.53" fill="#ff00ff"/><polygon points="381.82,221.05 391.62,221.05 386.72,229.25" fill="#ff00ff"/><polygon points="388.54,220.77 398.34,220.77 393.44,228.97" fill="#ff00ff"/><polygon points="395.27,220.48 405.07,220.48 400.17,228.68" fill="#ff00ff"/><polygon points="402.00,220.17 411.80,220.17 406.90,228.37" fill="#ff00ff"/><polygon points="408.72,219.81 418.52,219.81 413.62,228.01" fill="#ff00ff"/><polygon points="415.45,219.35 425.25,219.35 420.35,227.55" fill="#ff00ff"/><polygon points="422.18,219.04 431.98,219.04 427.08,227.24" fill="#ff00ff"/><polygon points="428.90,219.02 438.70,219.02 433.80,227.22" fill="#ff00ff"/><polygon points="435.63,219.03 445.43,219.03 440.53,227.23" fill="#ff00ff"/><polygon points="442.36,219.04 452.16,219.04 447.26,227.24" fill="#ff00ff"/><polygon points="449.08,219.05 458.88,219.05 453.98,227.25" fill="#ff00ff"/><polygon points="455.81,219.08 465.61,219.08 460.71,227.28" fill="#ff00ff"/><polygon points="462.54,219.10 472.34,219.10 467.44,227.30" fill="#ff00ff"/><polygon points="469.26,219.13 479.06,219.13 474.16,227.33" fill="#ff00ff"/><polygon points="475.99,219.16 485.79,219.16 480.89,227.36" fill="#ff00ff"/><polygon points="482.72,219.19 492.52,219.19 487.62,227.39" fill="#ff00ff"/><polygon points="489.44,219.23 499.24,219.23 494.34,227.43" fill="#ff00ff"/><polygon points="496.17,219.27 505.97,219.27 501.07,227.47" fill="#ff00ff"/>
</g>
<rect x="70.8" y="8.95" width="470.55" height="345.85" fill="none" stroke="#000" stroke-width="1.7"/>
<path d="M104.20,354.8 v-7.8 M137.83,354.8 v-4.5 M171.47,354.8 v-7.8 M205.10,354.8 v-4.5 M238.73,354.8 v-7.8 M272.37,354.8 v-4.5 M306.00,354.8 v-7.8 M339.63,354.8 v-4.5 M373.26,354.8 v-7.8 M406.90,354.8 v-4.5 M440.53,354.8 v-7.8 M474.16,354.8 v-4.5 M507.80,354.8 v-7.8 M70.8,354.80 h7.8 M70.8,323.36 h4.5 M70.8,291.92 h7.8 M70.8,260.48 h4.5 M70.8,229.04 h7.8 M70.8,197.60 h4.5 M70.8,166.16 h7.8 M70.8,134.72 h4.5 M70.8,103.28 h7.8 M70.8,71.84 h4.5 M70.8,40.40 h7.8" stroke="#000" stroke-width="1.7" fill="none"/>
<g font-family="'Liberation Sans', Arial, sans-serif" font-size="15.1" fill="#000" style="font-kerning:none">
<text transform="translate(104.20,374.7) scale(1,1.05)" text-anchor="middle">0</text>
<text transform="translate(171.47,374.7) scale(1,1.05)" text-anchor="middle">200</text>
<text transform="translate(238.73,374.7) scale(1,1.05)" text-anchor="middle">400</text>
<text transform="translate(306.00,374.7) scale(1,1.05)" text-anchor="middle">600</text>
<text transform="translate(373.26,374.7) scale(1,1.05)" text-anchor="middle">800</text>
<text transform="translate(440.53,374.7) scale(1,1.05)" text-anchor="middle">1000</text>
<text transform="translate(507.80,374.7) scale(1,1.05)" text-anchor="middle">1200</text>
<text transform="translate(63,359.65) scale(1,1.05)" text-anchor="end">0.07</text>
<text transform="translate(63,296.77) scale(1,1.05)" text-anchor="end">0.08</text>
<text transform="translate(63,233.89) scale(1,1.05)" text-anchor="end">0.09</text>
<text transform="translate(63,171.01) scale(1,1.05)" text-anchor="end">0.10</text>
<text transform="translate(63,108.13) scale(1,1.05)" text-anchor="end">0.11</text>
<text transform="translate(63,45.25) scale(1,1.05)" text-anchor="end">0.12</text>
</g>
<g font-family="'Liberation Serif', 'Times New Roman', serif" font-size="18.67" fill="#000">
<text x="306.6" y="405.1" text-anchor="middle" font-size="19">Time (s)</text>
<text transform="translate(25.3,195.0) rotate(-90)" text-anchor="middle" font-size="18.85" style="text-rendering:geometricPrecision">Friction Coefficient</text>
</g>
<rect x="90.2" y="15.4" width="240.3" height="73.2" fill="#fff" stroke="#000" stroke-width="1.1"/>
<g font-family="'Liberation Serif', 'Times New Roman', serif" font-size="13.55" fill="#000">
<line x1="110.4" y1="29.75" x2="141.7" y2="29.75" stroke="#000000" stroke-width="1"/>
<rect x="122.30" y="26.00" width="7.5" height="7.5" fill="#000000"/>
<text x="144.9" y="34.45">PEEK/PTFE</text>
<line x1="110.4" y1="46.75" x2="141.7" y2="46.75" stroke="#ff0000" stroke-width="1"/>
<circle cx="126.05" cy="46.75" r="4.1" fill="#ff0000"/>
<text x="144.9" y="51.45">PEEK/PTFE+30% CFs</text>
<line x1="110.4" y1="63.85" x2="141.7" y2="63.85" stroke="#0000ff" stroke-width="1"/>
<polygon points="121.15,66.75 130.95,66.75 126.05,58.25" fill="#0000ff"/>
<text x="144.9" y="68.55">PEEK/PTFE+20% CFs+10% Gr</text>
<line x1="110.4" y1="80.75" x2="141.7" y2="80.75" stroke="#ff00ff" stroke-width="1"/>
<polygon points="121.15,78.05 130.95,78.05 126.05,86.25" fill="#ff00ff"/>
<text x="144.9" y="85.45">PEEK/PTFE+10% CFs+20% Gr</text>
</g>
</svg>
</body></html>
